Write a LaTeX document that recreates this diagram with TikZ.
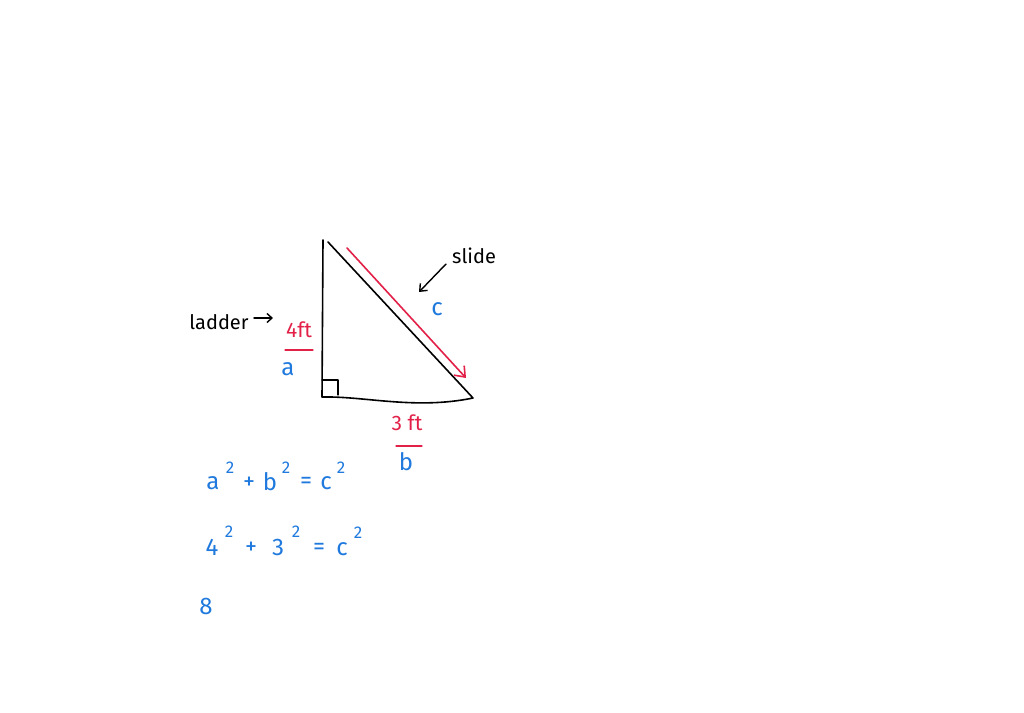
\documentclass[tikz,border=0pt]{standalone}
\usepackage{fontspec}
\setmainfont{Fira Sans}
\usetikzlibrary{arrows.meta}
\definecolor{pred}{RGB}{226,32,72}
\definecolor{pblue}{RGB}{32,122,222}
\begin{document}
\begin{tikzpicture}[x=1pt,y=-1pt,
  ink/.style={line width=1.6pt,line cap=round,line join=round},
  blk/.style={font=\fontsize{20}{20}\selectfont,text=black,inner sep=0pt},
  rd/.style={font=\fontsize{21}{21}\selectfont,text=pred,inner sep=0pt},
  bl/.style={font=\fontsize{24}{24}\selectfont,text=pblue,inner sep=0pt},
  sup/.style={font=\fontsize{17}{17}\selectfont,text=pblue,inner sep=0pt}]
\useasboundingbox[fill=white] (0,0) rectangle (1024,712);
% triangle
\coordinate (T) at (323,240);
\coordinate (BL) at (322,397);
\coordinate (BR) at (473,398);
\draw[ink] (T) -- (BL) .. controls (365,396) and (415,410) .. (BR) -- (328,242);
\draw[ink,line width=1.3pt] (322,380) -- (338,380) -- (338,395);
% red slide arrow
\coordinate (s1) at (347,248);
\coordinate (s2) at (466,378);
\draw[ink,draw=pred,-{Straight Barb[length=9pt,width=14pt]}] (s1) -- (s2);
% labels
\node[blk,anchor=west] (slide) at (452,256) {slide};
\coordinate (sa) at (446,264);
\coordinate (sb) at (419,292);
\draw[ink,line width=1.4pt,-{Straight Barb[length=6pt,width=10pt]}] (sa) -- (sb);
\node[bl] (c) at (437,309) {c};
\node[blk] (ladder) at (219,322) {ladder};
\coordinate (la) at (254,318);
\coordinate (lb) at (273,318);
\draw[ink,line width=1.4pt,-{Straight Barb[length=5pt,width=9pt]}] (la) -- (lb);
\node[rd] (h) at (299,330) {4ft};
\coordinate (h1) at (285,350);
\coordinate (h2) at (313,350);
\draw[ink,draw=pred,line width=1.3pt] (h1) -- (h2);
\node[bl] (a) at (288,369) {a};
\node[rd] (w) at (407,423) {3 ft};
\coordinate (w1) at (396,446);
\coordinate (w2) at (422,446);
\draw[ink,draw=pred,line width=1.3pt] (w1) -- (w2);
\node[bl] (b) at (406,462) {b};
% equation 1
\node[bl] (e1a) at (213,483) {a};
\node[sup] (e1as) at (230,468) {2};
\node[bl] (e1p) at (249,483) {+};
\node[bl] (e1b) at (270,482) {b};
\node[sup] (e1bs) at (286,468) {2};
\node[bl] (e1e) at (306,483) {=};
\node[bl] (e1c) at (326,483) {c};
\node[sup] (e1cs) at (341,468) {2};
% equation 2
\node[bl] (e2a) at (212,547) {4};
\node[sup] (e2as) at (229,532) {2};
\node[bl] (e2p) at (251,548) {+};
\node[bl] (e2b) at (278,547) {3};
\node[sup] (e2bs) at (296,532) {2};
\node[bl] (e2e) at (319,549) {=};
\node[bl] (e2c) at (342,549) {c};
\node[sup] (e2cs) at (358,533) {2};
% line 3
\node[bl] (e3) at (206,606) {8};
\end{tikzpicture}
\end{document}
